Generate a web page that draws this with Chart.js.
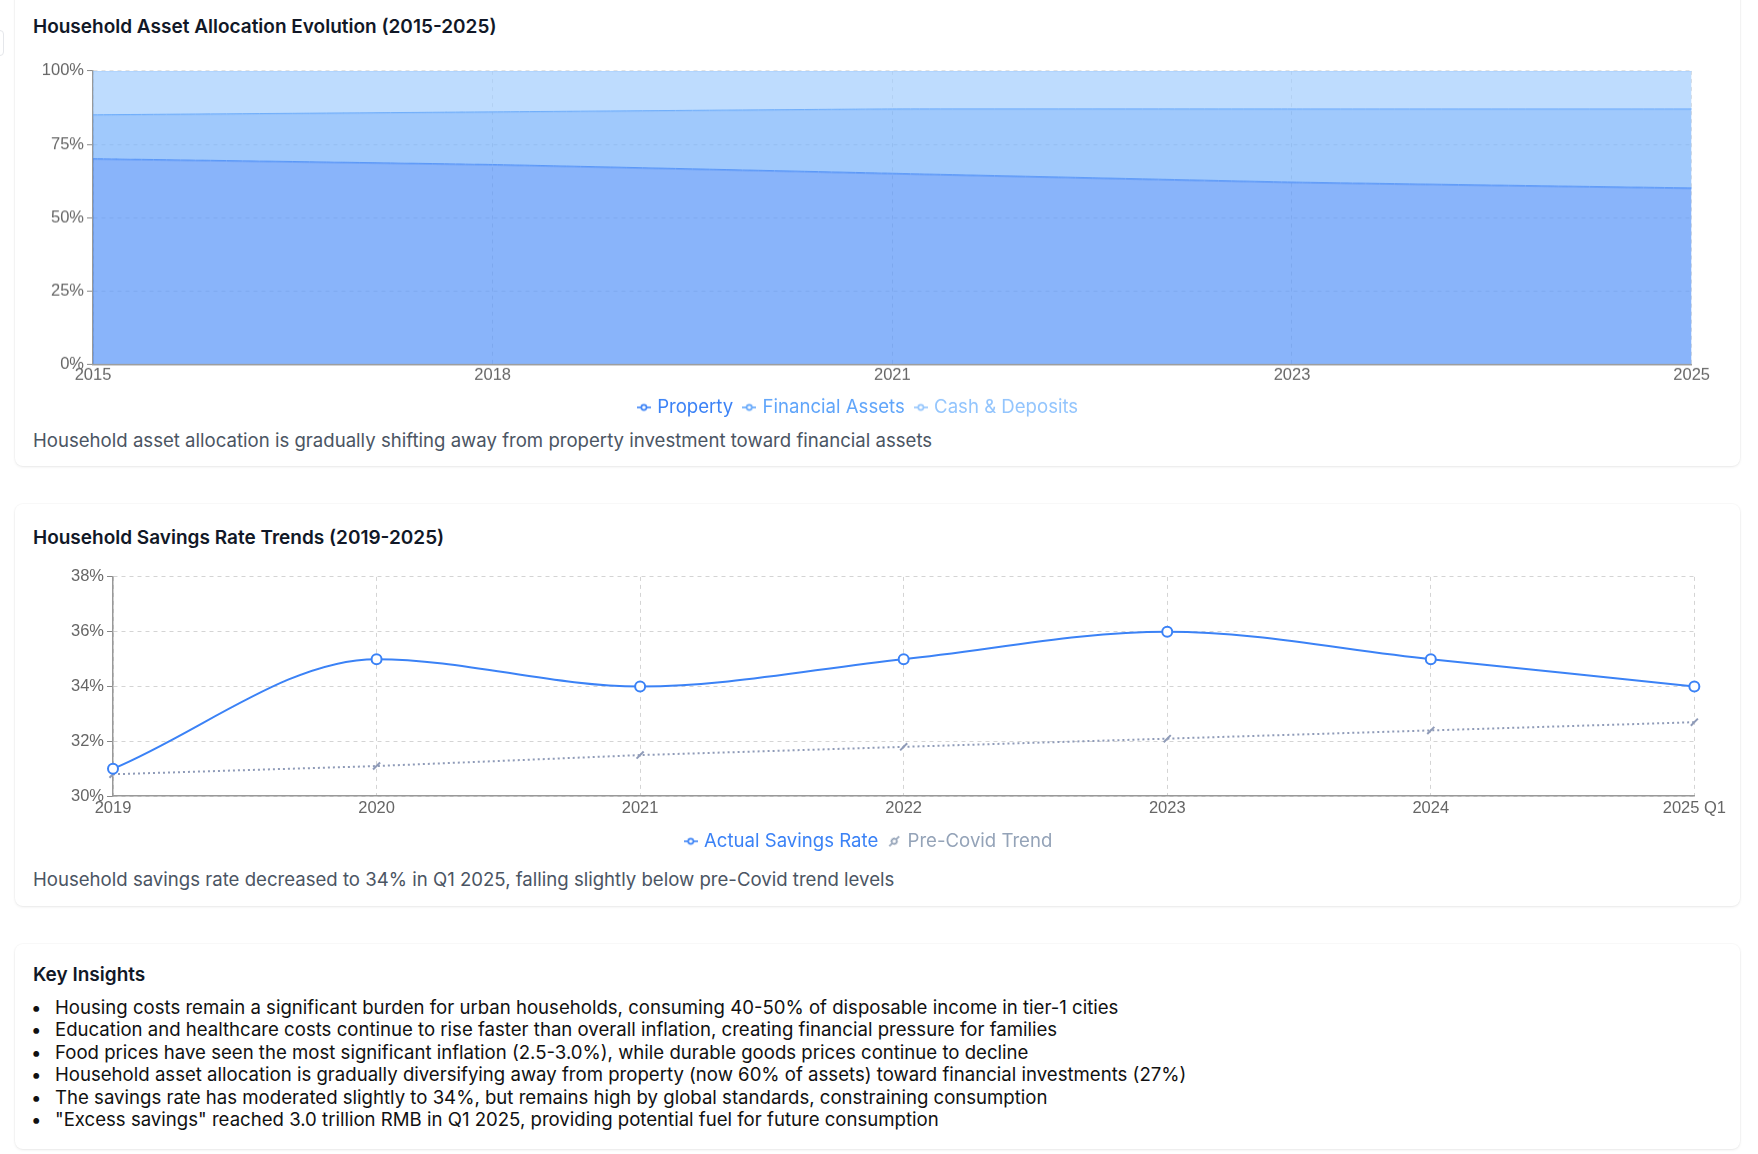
<!DOCTYPE html>
<html>
<head>
<meta charset="utf-8">
<script src="https://cdn.jsdelivr.net/npm/chart.js@4.4.0/dist/chart.umd.min.js"></script>
<style>
  body { margin: 0; background: #fff; font-family: Inter, "Noto Sans", sans-serif; width: 1758px; height: 1154px; overflow: hidden; position: relative; }
  .card { position: absolute; left: 15px; width: 1725px; background: #fff; border-radius: 8px;
          box-shadow: 0 1px 3px rgba(0,0,0,0.08), 0 0 0 1px rgba(0,0,0,0.02); }
  .title { position: absolute; left: 18px; font-size: 19px; font-weight: 600; color: #111827; line-height: 22px; }
  .desc { position: absolute; left: 18px; font-size: 18.6px; color: #4b5563; line-height: 22px; }
  .chartbox { position: absolute; left: 18px; }
  ul { position: absolute; left: 0; margin: 0; padding: 0; list-style: none; font-size: 18.6px; line-height: 22.4px; color: #111; }
  li { position: relative; padding-left: 40px; }
  li::before { content: "\2022"; position: absolute; left: 16px; top: 0; }
  .stub { position: absolute; left: -10px; top: 30px; width: 12px; height: 24px; border: 1px solid #e5e7eb; border-radius: 4px; }
</style>
</head>
<body>
<div class="stub"></div>

<div class="card" style="top:-10px;height:476px;">
  <div class="title" style="top:26px;">Household Asset Allocation Evolution (2015-2025)</div>
  <div class="chartbox" style="top:68.4px;width:1678px;height:367.7px;"><canvas id="assetChart"></canvas></div>
  <div class="desc" style="top:439px;">Household asset allocation is gradually shifting away from property investment toward financial assets</div>
</div>

<div class="card" style="top:504px;height:402px;">
  <div class="title" style="top:23px;">Household Savings Rate Trends (2019-2025)</div>
  <div class="chartbox" style="top:59.5px;width:1695px;height:296.6px;"><canvas id="savingsChart"></canvas></div>
  <div class="desc" style="top:364px;">Household savings rate decreased to 34% in Q1 2025, falling slightly below pre-Covid trend levels</div>
</div>

<div class="card" style="top:944px;height:205px;">
  <div class="title" style="top:20px;">Key Insights</div>
  <ul style="top:52px;">
    <li>Housing costs remain a significant burden for urban households, consuming 40-50% of disposable income in tier-1 cities</li>
    <li>Education and healthcare costs continue to rise faster than overall inflation, creating financial pressure for families</li>
    <li>Food prices have seen the most significant inflation (2.5-3.0%), while durable goods prices continue to decline</li>
    <li>Household asset allocation is gradually diversifying away from property (now 60% of assets) toward financial investments (27%)</li>
    <li>The savings rate has moderated slightly to 34%, but remains high by global standards, constraining consumption</li>
    <li>"Excess savings" reached 3.0 trillion RMB in Q1 2025, providing potential fuel for future consumption</li>
  </ul>
</div>

<script>
// asset allocation (% of household assets)
const assetYears = ['2015', '2018', '2021', '2023', '2025'];
const propertyShare = [70, 68, 65, 62, 60];
const financialShare = [15, 18, 22, 25, 27];
const cashShare = [15, 14, 13, 13, 13];

// savings rate (%)
const savingsLabels = ['2019', '2020', '2021', '2022', '2023', '2024', '2025 Q1'];
const actualSavings = [31, 35, 34, 35, 36, 35, 34];
const preCovidTrend = [30.8, 31.1, 31.5, 31.8, 32.1, 32.4, 32.7];

const tickFont = { family: "'Helvetica Neue', Helvetica, Arial, 'Liberation Sans', sans-serif", size: 16.5 };
const legendFont = { family: "Inter, sans-serif", size: 18.6 };

// little "-o-" marker used in the legends
function glyph(color) {
    const c = document.createElement('canvas');
    c.width = 14; c.height = 10;
    const g = c.getContext('2d');
    g.strokeStyle = color;
    g.lineWidth = 1.6;
    g.beginPath(); g.moveTo(0, 5); g.lineTo(14, 5); g.stroke();
    g.fillStyle = '#fff';
    g.beginPath(); g.arc(7, 5, 2.6, 0, Math.PI * 2); g.fill(); g.stroke();
    return c;
}

function legendOpts(colors) {
    return {
        position: 'bottom',
        labels: {
            font: legendFont,
            usePointStyle: true,
            boxWidth: 8,
            boxHeight: 8,
            padding: 12,
            generateLabels(chart) {
                const items = Chart.defaults.plugins.legend.labels.generateLabels(chart);
                items.forEach((it, i) => {
                    it.fontColor = colors[i];
                    it.pointStyle = glyph(colors[i]);
                });
                return items;
            }
        }
    };
}

// nudge the legend sideways a little
function legendShift(dx) {
    return {
        id: 'legendShift',
        afterLayout(chart) {
            chart.legend.left += dx;
            chart.legend.right += dx;
        }
    };
}

new Chart(document.getElementById('assetChart'), {
    type: 'line',
    data: {
        labels: assetYears,
        datasets: [
            { label: 'Property', data: propertyShare, borderColor: '#3b82f6', backgroundColor: 'rgba(59,130,246,0.6)', fill: 'origin', borderWidth: 1, pointRadius: 0, tension: 0.1 },
            { label: 'Financial Assets', data: financialShare, borderColor: '#60a5fa', backgroundColor: 'rgba(96,165,250,0.6)', fill: '-1', borderWidth: 1, pointRadius: 0, tension: 0.1 },
            { label: 'Cash & Deposits', data: cashShare, borderColor: '#93c5fd', backgroundColor: 'rgba(147,197,253,0.6)', fill: '-1', borderWidth: 1, pointRadius: 0, tension: 0.1 }
        ]
    },
    options: {
        responsive: true,
        maintainAspectRatio: false,
        animation: false,
        plugins: { legend: legendOpts(['#3b82f6', '#60a5fa', '#93c5fd']), tooltip: { enabled: false } },
        scales: {
            x: {
                stacked: true,
                grid: { color: 'rgba(0,0,0,0.12)', drawTicks: false },
                border: { color: '#999', width: 1.5, dash: [4, 4] },
                ticks: { font: tickFont, color: '#666', padding: 1, maxRotation: 0 }
            },
            y: {
                stacked: true,
                min: 0, max: 100,
                grid: { color: 'rgba(0,0,0,0.12)', tickColor: '#888', tickLength: 6 },
                border: { color: '#999', width: 1.5, dash: [4, 4] },
                ticks: { font: tickFont, color: '#666', stepSize: 25, padding: 3, callback: v => v + '%' },
                afterFit(s) { s.width = 60; }
            }
        }
    },
    plugins: [legendShift(-13)]
});

new Chart(document.getElementById('savingsChart'), {
    type: 'line',
    data: {
        labels: savingsLabels,
        datasets: [
            { label: 'Actual Savings Rate', data: actualSavings, borderColor: '#3b82f6', backgroundColor: '#fff', borderWidth: 2,
              cubicInterpolationMode: 'monotone',
              pointRadius: 5, pointBackgroundColor: '#fff', pointBorderColor: '#3b82f6', pointBorderWidth: 2 },
            { label: 'Pre-Covid Trend', data: preCovidTrend, borderColor: '#8f9bb8', backgroundColor: '#fff', borderWidth: 2, borderDash: [2, 3], tension: 0,
              pointStyle: 'line', pointRotation: -45, pointRadius: 5, pointBorderColor: '#8f9bb8', pointBorderWidth: 2 }
        ]
    },
    options: {
        responsive: true,
        maintainAspectRatio: false,
        animation: false,
        plugins: { legend: legendOpts(['#3b82f6', '#94a3b8']), tooltip: { enabled: false } },
        scales: {
            x: {
                grid: { color: '#d4d4d4', drawTicks: false },
                border: { color: '#999', width: 1.5, dash: [4, 4] },
                ticks: { font: tickFont, color: '#666', padding: 2, maxRotation: 0 }
            },
            y: {
                min: 30, max: 38,
                grid: { color: '#d4d4d4', tickColor: '#888', tickLength: 6 },
                border: { color: '#999', width: 1.5, dash: [4, 4] },
                ticks: { font: tickFont, color: '#666', stepSize: 2, padding: 3, callback: v => v + '%' },
                afterFit(s) { s.width = 80; }
            }
        }
    },
    plugins: [legendShift(-11)]
});
</script>
</body>
</html>
